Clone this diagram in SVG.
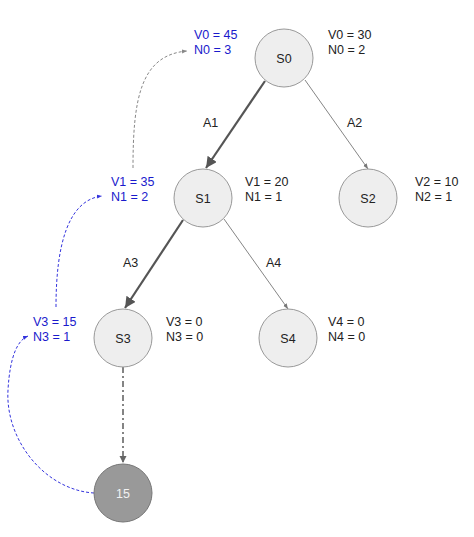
<svg xmlns="http://www.w3.org/2000/svg" width="474" height="537" viewBox="0 0 474 537">
<defs>
<style>
text{font-family:"Liberation Sans",Arial,sans-serif;font-size:12.5px;dominant-baseline:central}
.node{fill:#eeeeee;stroke:#999999;stroke-width:1}
.lbl{fill:#222}
.blue{fill:#1a1acc}
.c{text-anchor:middle}
.thick{stroke:#555;stroke-width:2.2;fill:none}
.thin{stroke:#777;stroke-width:0.9;fill:none}
.dd{stroke:#666;stroke-width:1.6;fill:none;stroke-dasharray:6 3 2 3}
.bd{stroke:#3333dd;stroke-width:1;fill:none;stroke-dasharray:3 2}
.gd{stroke:#888;stroke-width:1;fill:none;stroke-dasharray:3 2}
</style>
<marker id="ah" viewBox="0 0 10 10" refX="10" refY="5" markerWidth="5" markerHeight="5" markerUnits="strokeWidth" orient="auto"><path d="M0,0 L10,5 L0,10 z" fill="#555"/></marker>
<marker id="ahs" viewBox="0 0 10 10" refX="10" refY="5" markerWidth="6" markerHeight="6" markerUnits="strokeWidth" orient="auto"><path d="M0,1 L10,5 L0,9 z" fill="#777"/></marker>
<marker id="ahd" viewBox="0 0 10 10" refX="10" refY="5" markerWidth="4.5" markerHeight="4.5" markerUnits="strokeWidth" orient="auto"><path d="M0,0 L10,5 L0,10 z" fill="#666"/></marker>
<marker id="ahb" viewBox="0 0 10 10" refX="10" refY="5" markerWidth="5" markerHeight="5" markerUnits="strokeWidth" orient="auto"><path d="M0,1 L10,5 L0,9 z" fill="#3333dd"/></marker>
<marker id="ahg" viewBox="0 0 10 10" refX="10" refY="5" markerWidth="5" markerHeight="5" markerUnits="strokeWidth" orient="auto"><path d="M0,1 L10,5 L0,9 z" fill="#888"/></marker>
</defs>
<rect width="474" height="537" fill="#ffffff"/>
<g id="connectors">
<line class="thick" x1="265" y1="81" x2="206" y2="168" marker-end="url(#ah)"/>
<line class="thin" x1="305" y1="80" x2="368" y2="169" marker-end="url(#ahs)"/>
<line class="thick" x1="183" y1="220" x2="125" y2="308" marker-end="url(#ah)"/>
<line class="thin" x1="224" y1="219" x2="288" y2="309" marker-end="url(#ahs)"/>
<line class="dd" x1="123" y1="367" x2="123" y2="463" marker-end="url(#ahd)"/>
<path class="bd" d="M94,493 C45,490 5,440 8,390 C10,355 18,340 28,336" marker-end="url(#ahb)"/>
<path class="bd" d="M56,307 C56,245 68,200 102,196" marker-end="url(#ahb)"/>
<path class="gd" d="M133,168 C133,100 140,55 187,51" marker-end="url(#ahg)"/>
<text class="lbl" x="203" y="123">A1</text>
<text class="lbl" x="347" y="123">A2</text>
<text class="lbl" x="123" y="263">A3</text>
<text class="lbl" x="266" y="263">A4</text>
</g>
<g id="S0"><circle class="node" cx="284" cy="58" r="29"/><text class="lbl c" x="284" y="59">S0</text>
<text class="lbl" x="328" y="35">V0 = 30</text><text class="lbl" x="328" y="50">N0 = 2</text>
<text class="blue" x="194" y="35">V0 = 45</text><text class="blue" x="194" y="50">N0 = 3</text></g>
<g id="S1"><circle class="node" cx="203" cy="198" r="29"/><text class="lbl c" x="203" y="199">S1</text>
<text class="lbl" x="245" y="182">V1 = 20</text><text class="lbl" x="245" y="197">N1 = 1</text>
<text class="blue" x="111" y="182">V1 = 35</text><text class="blue" x="111" y="197">N1 = 2</text></g>
<g id="S2"><circle class="node" cx="368" cy="198" r="29"/><text class="lbl c" x="368" y="199">S2</text>
<text class="lbl" x="415" y="182">V2 = 10</text><text class="lbl" x="415" y="197">N2 = 1</text></g>
<g id="S3"><circle class="node" cx="123" cy="338" r="29"/><text class="lbl c" x="123" y="339">S3</text>
<text class="lbl" x="166" y="322">V3 = 0</text><text class="lbl" x="166" y="337">N3 = 0</text>
<text class="blue" x="33" y="322">V3 = 15</text><text class="blue" x="33" y="337">N3 = 1</text></g>
<g id="S4"><circle class="node" cx="288" cy="338" r="29"/><text class="lbl c" x="288" y="339">S4</text>
<text class="lbl" x="328" y="322">V4 = 0</text><text class="lbl" x="328" y="337">N4 = 0</text></g>
<g id="T"><circle cx="123" cy="493" r="29" fill="#999999" stroke="#777777" stroke-width="1"/><text class="c" x="123" y="494" fill="#f2f2f2">15</text></g>
</svg>
